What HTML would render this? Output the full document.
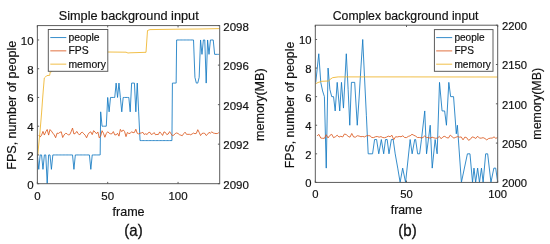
<!DOCTYPE html>
<html><head><meta charset="utf-8"><title>FPS, number of people and memory per frame</title>
<style>
html,body{margin:0;padding:0;background:#fff;}
body{width:550px;height:244px;overflow:hidden;}
svg{display:block;}
text{font-family:'Liberation Sans', sans-serif;fill:#111;stroke:#111;stroke-width:0.18px;}
.sb{font-size:15.9px;stroke-width:0.3px;}
</style></head><body>
<svg width="550" height="244" viewBox="0 0 550 244">
<rect width="550" height="244" fill="#fff"/>
<clipPath id="ca"><rect x="37.35" y="25.6" width="182.35" height="158.1"/></clipPath>
<g clip-path="url(#ca)">
<polyline points="37.35,154.95 38.76,169.33 40.16,154.95 41.57,154.95 42.98,169.33 44.39,154.95 45.79,154.95 47.20,183.70 48.61,154.95 50.01,154.95 51.42,169.33 52.83,154.95 54.23,154.95 55.64,154.95 57.05,154.95 58.45,154.95 59.86,154.95 61.27,154.95 62.68,154.95 64.08,154.95 65.49,154.95 66.90,154.95 68.30,154.95 69.71,154.95 71.12,154.95 72.53,154.95 73.93,169.33 75.34,154.95 76.75,154.95 78.15,154.95 79.56,154.95 80.97,154.95 82.37,154.95 83.78,154.95 85.19,154.95 86.59,154.95 88.00,154.95 89.41,154.95 90.82,169.33 92.22,154.95 93.63,154.95 95.04,154.95 96.44,154.95 97.85,154.95 99.26,154.95 100.17,154.95 100.66,111.84 102.07,126.21 103.48,126.21 104.89,126.21 106.29,126.21 107.70,97.46 109.11,111.84 110.51,97.46 111.92,97.46 113.33,97.46 114.74,97.46 116.14,83.09 117.55,97.46 118.96,83.09 120.36,97.46 121.77,111.84 123.18,97.46 124.58,97.46 125.99,97.46 127.40,97.46 128.81,97.46 130.21,111.84 131.62,83.09 133.03,83.09 134.43,83.09 135.84,111.84 137.25,83.09 138.65,111.84 140.06,140.58 141.47,140.58 142.88,140.58 144.28,140.58 145.69,140.58 147.10,140.58 148.50,140.58 149.91,140.58 151.32,140.58 152.72,140.58 154.13,140.58 155.54,140.58 156.94,140.58 158.35,140.58 159.76,140.58 161.17,140.58 162.57,140.58 163.98,140.58 165.39,140.58 166.79,140.58 168.20,140.58 169.61,140.58 171.01,140.58 171.93,140.58 172.42,83.09 173.83,83.09 175.24,83.09 176.15,83.09 176.64,39.97 178.05,39.97 179.46,39.97 180.86,39.97 182.27,39.97 183.68,39.97 185.09,39.97 186.49,39.97 187.90,39.97 189.31,39.97 190.71,39.97 192.12,39.97 193.53,39.97 194.93,77.34 196.34,83.09 197.75,83.09 199.16,77.34 200.56,39.97 201.97,54.35 203.38,39.97 204.78,39.97 206.19,83.09 207.60,39.97 209.00,54.35 210.41,39.97 211.82,39.97 213.22,39.97 214.63,54.35 216.04,54.35 217.45,54.35 218.85,54.35" fill="none" stroke="#1279C2" stroke-width="0.85" stroke-linejoin="round"/>
<polyline points="38.76,134.99 40.16,137.06 41.57,135.12 42.98,131.41 44.39,135.04 45.79,131.72 47.20,129.49 48.61,135.08 50.01,129.59 51.42,131.13 52.83,133.17 54.23,134.88 55.64,137.72 57.05,133.15 58.45,133.41 59.86,132.36 61.27,131.81 62.68,137.50 64.08,134.96 65.49,133.41 66.90,133.59 68.30,134.99 69.71,134.65 71.12,131.78 72.53,128.08 73.93,133.99 75.34,133.41 76.75,131.41 78.15,133.49 79.56,135.04 80.97,132.85 82.37,132.19 83.78,133.82 85.19,135.18 86.59,137.80 88.00,134.45 89.41,132.50 90.82,131.84 92.22,134.64 93.63,130.63 95.04,132.04 96.44,133.71 97.85,131.96 99.26,137.86 100.66,135.97 102.07,130.69 103.48,133.27 104.89,137.24 106.29,133.56 107.70,131.71 109.11,133.17 110.51,133.79 111.92,133.77 113.33,131.58 114.74,134.85 116.14,134.88 117.55,133.26 118.96,136.13 120.36,129.38 121.77,131.69 123.18,129.90 124.58,131.55 125.99,136.62 127.40,132.46 128.81,133.48 130.21,133.33 131.62,131.71 133.03,132.69 134.43,132.43 135.84,129.27 137.25,133.33 138.65,133.93 140.06,133.24 141.47,132.89 142.88,132.32 144.28,134.53 145.69,133.77 147.10,134.52 148.50,132.53 149.91,132.31 151.32,134.54 152.72,133.98 154.13,132.56 155.54,134.78 156.94,134.42 158.35,134.50 159.76,131.90 161.17,133.47 162.57,135.44 163.98,131.86 165.39,132.46 166.79,134.60 168.20,134.02 169.61,131.63 171.01,133.76 172.42,135.72 173.83,135.16 175.24,133.52 176.64,132.98 178.05,133.49 179.46,134.68 180.86,135.18 182.27,135.71 183.68,133.64 185.09,132.18 186.49,134.32 187.90,134.37 189.31,134.29 190.71,134.77 192.12,133.94 193.53,133.08 194.93,133.69 196.34,133.39 197.75,129.71 199.16,132.36 200.56,135.53 201.97,133.49 203.38,133.18 204.78,133.33 206.19,135.50 207.60,134.34 209.00,132.38 210.41,133.16 211.82,131.85 213.22,132.97 214.63,133.35 216.04,133.57 217.45,133.48 218.85,132.65" fill="none" stroke="#DB5A20" stroke-width="0.85" stroke-linejoin="round"/>
<polyline points="37.80,155.00 38.60,146.00 39.50,137.00 40.30,128.00 41.00,120.00 41.80,110.00 42.50,100.00 43.30,90.00 44.30,78.00 45.50,77.00 46.80,75.60 49.70,75.30 50.20,72.00 52.00,71.50 55.00,60.00 58.00,53.00 70.00,52.30 107.50,52.00 126.00,52.20 128.00,53.00 130.00,52.80 146.00,52.30 147.50,30.50 150.00,29.60 178.00,29.20 200.00,29.00 219.70,28.60" fill="none" stroke="#EEB428" stroke-width="0.85" stroke-linejoin="round"/>
</g>
<rect x="37.35" y="25.6" width="182.35" height="158.1" fill="none" stroke="#555555" stroke-width="0.95"/>
<path d="M37.35 183.7v-1.8M37.35 25.6v1.8" stroke="#555555" stroke-width="0.95"/>
<text x="37.35" y="199.8" text-anchor="middle" style="font-size:11.5px">0</text>
<path d="M107.70 183.7v-1.8M107.70 25.6v1.8" stroke="#555555" stroke-width="0.95"/>
<text x="107.70" y="199.8" text-anchor="middle" style="font-size:11.5px">50</text>
<path d="M178.05 183.7v-1.8M178.05 25.6v1.8" stroke="#555555" stroke-width="0.95"/>
<text x="178.05" y="199.8" text-anchor="middle" style="font-size:11.5px">100</text>
<path d="M37.35 183.70h1.8" stroke="#555555" stroke-width="0.95"/>
<text x="33.55" y="188.60" text-anchor="end" style="font-size:11.5px">0</text>
<path d="M37.35 154.95h1.8" stroke="#555555" stroke-width="0.95"/>
<text x="33.55" y="159.85" text-anchor="end" style="font-size:11.5px">2</text>
<path d="M37.35 126.21h1.8" stroke="#555555" stroke-width="0.95"/>
<text x="33.55" y="131.11" text-anchor="end" style="font-size:11.5px">4</text>
<path d="M37.35 97.46h1.8" stroke="#555555" stroke-width="0.95"/>
<text x="33.55" y="102.36" text-anchor="end" style="font-size:11.5px">6</text>
<path d="M37.35 68.72h1.8" stroke="#555555" stroke-width="0.95"/>
<text x="33.55" y="73.62" text-anchor="end" style="font-size:11.5px">8</text>
<path d="M37.35 39.97h1.8" stroke="#555555" stroke-width="0.95"/>
<text x="33.55" y="44.87" text-anchor="end" style="font-size:11.5px">10</text>
<path d="M219.7 183.70h-1.8" stroke="#555555" stroke-width="0.95"/>
<text x="223.30" y="188.60" text-anchor="start" style="font-size:11.5px">2090</text>
<path d="M219.7 144.17h-1.8" stroke="#555555" stroke-width="0.95"/>
<text x="223.30" y="149.07" text-anchor="start" style="font-size:11.5px">2092</text>
<path d="M219.7 104.65h-1.8" stroke="#555555" stroke-width="0.95"/>
<text x="223.30" y="109.55" text-anchor="start" style="font-size:11.5px">2094</text>
<path d="M219.7 65.12h-1.8" stroke="#555555" stroke-width="0.95"/>
<text x="223.30" y="70.03" text-anchor="start" style="font-size:11.5px">2096</text>
<path d="M219.7 25.60h-1.8" stroke="#555555" stroke-width="0.95"/>
<text x="223.30" y="30.50" text-anchor="start" style="font-size:11.5px">2098</text>
<text x="128.7" y="20" text-anchor="middle" style="font-size:12.72px">Simple background input</text>
<text x="128.53" y="215.5" text-anchor="middle" style="font-size:12.55px">frame</text>
<text transform="translate(15.8,105.25) rotate(-90)" text-anchor="middle" style="font-size:12.55px">FPS, number of people</text>
<text transform="translate(264.4,104.65) rotate(-90)" text-anchor="middle" style="font-size:12.55px">memory(MB)</text>
<text transform="translate(133.5,236.0) scale(0.945,1)" text-anchor="middle" class="sb">(a)</text>
<rect x="48.3" y="29.5" width="59.5" height="41.8" fill="#fff" stroke="#555555" stroke-width="0.95"/>
<path d="M50.3 37.55h16" stroke="#1279C2" stroke-width="0.85"/>
<text x="68.4" y="41.05" style="font-size:10.4px">people</text>
<path d="M50.3 50.85h16" stroke="#DB5A20" stroke-width="0.85"/>
<text x="68.4" y="54.35" style="font-size:10.4px">FPS</text>
<path d="M50.3 64.15h16" stroke="#EEB428" stroke-width="0.85"/>
<text x="68.4" y="67.65" style="font-size:10.4px">memory</text>
<clipPath id="cb"><rect x="315.3" y="25.2" width="182.39999999999998" height="157.20000000000002"/></clipPath>
<g clip-path="url(#cb)">
<polyline points="315.76,82.36 318.77,53.78 320.77,82.36 322.60,90.94 324.42,96.65 326.24,168.11 328.07,68.07 329.89,89.51 331.72,96.65 333.54,96.65 335.18,110.95 337.19,82.36 339.74,110.95 341.47,82.36 343.48,108.09 346.31,53.78 348.13,89.51 349.77,125.24 351.42,82.36 354.70,82.36 357.25,125.24 359.08,98.08 360.90,68.07 362.72,39.49 364.55,78.08 366.37,115.23 368.20,153.82 372.57,153.82 374.58,139.53 376.59,139.53 378.78,153.82 381.33,139.53 383.70,153.82 385.52,139.53 387.17,139.53 388.99,153.82 391.36,139.53 393.18,139.53 395.19,153.82 397.74,168.11 400.12,182.40 402.67,168.11 405.59,182.40 410.15,139.53 412.15,153.82 414.71,139.53 415.62,139.53 417.63,153.82 419.63,153.82 421.46,139.53 424.74,110.95 426.56,153.82 430.21,125.24 432.22,168.11 435.14,139.53 437.14,153.82 439.51,82.36 442.07,110.95 444.62,110.95 446.45,125.24 448.82,82.36 450.64,96.65 453.56,96.65 456.30,133.81 457.39,125.24 461.40,182.40 467.42,153.82 469.98,153.82 472.53,182.40 473.99,168.11 475.63,182.40 477.64,168.11 479.46,182.40 481.47,168.11 483.11,182.40 485.66,153.82 487.67,153.82 490.95,182.40 493.87,168.11 495.69,168.11 497.70,182.40" fill="none" stroke="#1279C2" stroke-width="0.85" stroke-linejoin="round"/>
<polyline points="317.12,135.81 318.95,134.42 320.77,138.05 322.60,138.31 324.42,138.32 326.24,134.76 328.07,137.95 329.89,135.42 331.72,134.31 333.54,137.67 335.36,136.78 337.19,135.17 339.01,137.08 340.84,136.28 342.66,137.03 344.48,133.98 346.31,134.64 348.13,136.34 349.96,137.20 351.78,133.48 353.60,136.95 355.43,137.17 357.25,135.73 359.08,136.07 360.90,136.71 362.72,136.47 364.55,136.92 366.37,135.85 368.20,135.65 370.02,135.82 371.84,137.54 373.67,137.59 375.49,136.72 377.32,136.51 379.14,137.18 380.96,136.60 382.79,137.57 384.61,137.72 386.44,137.14 388.26,136.13 390.08,136.74 391.91,135.25 393.73,139.69 395.56,136.76 397.38,136.93 399.20,136.48 401.03,136.73 402.85,135.78 404.68,137.52 406.50,137.57 408.32,136.38 410.15,135.80 411.97,134.30 413.80,135.25 415.62,136.11 417.44,137.48 419.27,137.47 421.09,137.79 422.92,137.57 424.74,135.96 426.56,137.64 428.39,137.51 430.21,138.23 432.04,137.16 433.86,137.80 435.68,138.27 437.51,138.09 439.33,136.36 441.16,138.74 442.98,136.84 444.80,136.35 446.63,137.63 448.45,138.05 450.28,135.08 452.10,136.74 453.92,138.12 455.75,137.30 457.57,136.63 459.40,137.15 461.22,136.94 463.04,139.85 464.87,137.07 466.69,137.68 468.52,140.30 470.34,139.32 472.16,136.88 473.99,137.38 475.81,138.47 477.64,136.21 479.46,138.12 481.28,138.14 483.11,137.63 484.93,138.53 486.76,139.92 488.58,138.56 490.40,138.17 492.23,138.07 494.05,136.89 495.88,138.43 497.70,137.27" fill="none" stroke="#DB5A20" stroke-width="0.85" stroke-linejoin="round"/>
<polyline points="315.60,83.80 318.00,82.50 321.80,81.30 328.40,81.00 330.00,79.50 332.50,77.70 338.20,76.90 400.00,76.90 497.70,77.00" fill="none" stroke="#EEB428" stroke-width="0.85" stroke-linejoin="round"/>
</g>
<rect x="315.3" y="25.2" width="182.39999999999998" height="157.20000000000002" fill="none" stroke="#555555" stroke-width="0.95"/>
<path d="M315.30 182.4v-1.8M315.30 25.2v1.8" stroke="#555555" stroke-width="0.95"/>
<text x="315.30" y="197.5" text-anchor="middle" style="font-size:11.25px">0</text>
<path d="M406.50 182.4v-1.8M406.50 25.2v1.8" stroke="#555555" stroke-width="0.95"/>
<text x="406.50" y="197.5" text-anchor="middle" style="font-size:11.25px">50</text>
<path d="M497.70 182.4v-1.8M497.70 25.2v1.8" stroke="#555555" stroke-width="0.95"/>
<text x="497.70" y="197.5" text-anchor="middle" style="font-size:11.25px">100</text>
<path d="M315.3 182.40h1.8" stroke="#555555" stroke-width="0.95"/>
<text x="311.50" y="187.30" text-anchor="end" style="font-size:11.25px">0</text>
<path d="M315.3 153.82h1.8" stroke="#555555" stroke-width="0.95"/>
<text x="311.50" y="158.72" text-anchor="end" style="font-size:11.25px">2</text>
<path d="M315.3 125.24h1.8" stroke="#555555" stroke-width="0.95"/>
<text x="311.50" y="130.14" text-anchor="end" style="font-size:11.25px">4</text>
<path d="M315.3 96.65h1.8" stroke="#555555" stroke-width="0.95"/>
<text x="311.50" y="101.55" text-anchor="end" style="font-size:11.25px">6</text>
<path d="M315.3 68.07h1.8" stroke="#555555" stroke-width="0.95"/>
<text x="311.50" y="72.97" text-anchor="end" style="font-size:11.25px">8</text>
<path d="M315.3 39.49h1.8" stroke="#555555" stroke-width="0.95"/>
<text x="311.50" y="44.39" text-anchor="end" style="font-size:11.25px">10</text>
<path d="M497.7 182.40h-1.8" stroke="#555555" stroke-width="0.95"/>
<text x="502.00" y="187.30" text-anchor="start" style="font-size:11.25px">2000</text>
<path d="M497.7 143.10h-1.8" stroke="#555555" stroke-width="0.95"/>
<text x="502.00" y="148.00" text-anchor="start" style="font-size:11.25px">2050</text>
<path d="M497.7 103.80h-1.8" stroke="#555555" stroke-width="0.95"/>
<text x="502.00" y="108.70" text-anchor="start" style="font-size:11.25px">2100</text>
<path d="M497.7 64.50h-1.8" stroke="#555555" stroke-width="0.95"/>
<text x="502.00" y="69.40" text-anchor="start" style="font-size:11.25px">2150</text>
<path d="M497.7 25.20h-1.8" stroke="#555555" stroke-width="0.95"/>
<text x="502.00" y="30.10" text-anchor="start" style="font-size:11.25px">2200</text>
<text x="405.6" y="19.7" text-anchor="middle" style="font-size:12.26px">Complex background input</text>
<text x="406.50" y="214.2" text-anchor="middle" style="font-size:12.32px">frame</text>
<text transform="translate(294.1,105.00) rotate(-90)" text-anchor="middle" style="font-size:12.32px">FPS, number of people</text>
<text transform="translate(540.9,103.80) rotate(-90)" text-anchor="middle" style="font-size:12.42px">memory(MB)</text>
<text transform="translate(407.5,235.5) scale(0.945,1)" text-anchor="middle" class="sb">(b)</text>
<rect x="434.4" y="29.6" width="58.6" height="41.7" fill="#fff" stroke="#555555" stroke-width="0.95"/>
<path d="M436.2 37.60h16" stroke="#1279C2" stroke-width="0.85"/>
<text x="454.4" y="41.10" style="font-size:10.1px">people</text>
<path d="M436.2 50.90h16" stroke="#DB5A20" stroke-width="0.85"/>
<text x="454.4" y="54.40" style="font-size:10.1px">FPS</text>
<path d="M436.2 64.20h16" stroke="#EEB428" stroke-width="0.85"/>
<text x="454.4" y="67.70" style="font-size:10.1px">memory</text>
</svg>
</body></html>
